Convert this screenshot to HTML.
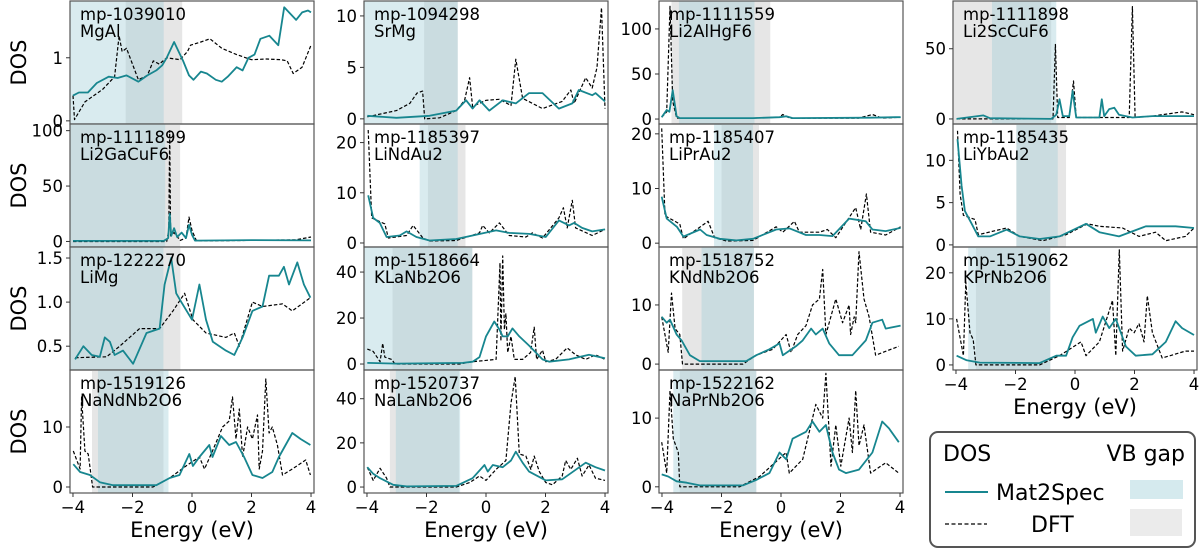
<!DOCTYPE html>
<html><head><meta charset="utf-8"><style>
html,body{margin:0;padding:0;background:#fff;}
svg{display:block;font-family:"DejaVu Sans","Liberation Sans",sans-serif;}
</style></head><body>
<svg id="chart" width="1200" height="550" viewBox="0 0 1200 550" xmlns="http://www.w3.org/2000/svg">
<defs id="defs"></defs>
<g id="panels"></g>
<g id="legend">
  <rect x="930" y="432" width="265" height="115" rx="8" fill="#fff" stroke="#555" stroke-width="2"/>
  <text x="943" y="461" font-size="22">DOS</text>
  <text x="1185" y="461" font-size="22" text-anchor="end">VB gap</text>
  <line x1="945" y1="492" x2="988" y2="492" stroke="#17868f" stroke-width="2"/>
  <text x="996" y="500" font-size="22">Mat2Spec</text>
  <rect x="1130" y="480" width="53" height="19" fill="#d5eaee"/>
  <line x1="945" y1="524" x2="987" y2="524" stroke="#000" stroke-width="1.3" stroke-dasharray="4,2.5"/>
  <text x="1031" y="532" font-size="22">DFT</text>
  <rect x="1130" y="509" width="52" height="27" fill="#ebebeb"/>
</g>
</svg>
<script>
// ---- data ----
const ids = ["mp-1039010","mp-1111899","mp-1222270","mp-1519126","mp-1094298","mp-1185397","mp-1518664","mp-1520737","mp-1111559","mp-1185407","mp-1518752","mp-1522162","mp-1111898","mp-1185435","mp-1519062"];
const formulas = ["MgAl","Li2GaCuF6","LiMg","NaNdNb2O6","SrMg","LiNdAu2","KLaNb2O6","NaLaNb2O6","Li2AlHgF6","LiPrAu2","KNdNb2O6","NaPrNb2O6","Li2ScCuF6","LiYbAu2","KPrNb2O6"];
const yDomains = [[-0.05,1.9],[-5,106],[0.23,1.625],[-1,19.5],[-0.5,11.45],[-0.8,23.7],[-2.6,50.9],[-2.7,53],[-5.5,131],[-0.7,21.8],[-1,19.8],[-0.9,17],[-3.6,84],[-0.25,14.3],[-1.1,25.6]];
const yTicks = [[0,1],[0,50,100],[0.5,1.0,1.5],[0,10],[0,5,10],[0,10,20],[0,20,40],[0,20,40],[0,50,100],[0,10,20],[0,10],[0,10],[0,50],[0,5,10],[0,10,20]];
const yTickLabels = [["0","1"],["0","50","100"],["0.5","1.0","1.5"],["0","10"],["0","5","10"],["0","10","20"],["0","20","40"],["0","20","40"],["0","50","100"],["0","10","20"],["0","10"],["0","10"],["0","50"],["0","5","10"],["0","10","20"]];
const xTicks = [-4,-2,0,2,4];
const xTickLabels = ["\u22124","\u22122","0","2","4"];
const gapMat2Spec = [[-4.2,-0.95],[-4.2,-0.9],[-4.2,-0.96],[-3.16,-0.79],[-4.2,-0.95],[-2.23,-0.95],[-4.2,-0.46],[-3.03,-0.87],[-3.43,-0.89],[-2.25,-0.94],[-2.67,-0.91],[-3.62,-0.83],[-2.79,-0.63],[-1.97,-0.58],[-3.59,-0.83]];
const gapDFT = [[-2.23,-0.33],[-4.2,-0.4],[-4.2,-0.39],[-3.36,-0.96],[-2.08,-0.95],[-1.95,-0.69],[-3.14,-0.46],[-3.23,-0.91],[-3.68,-0.36],[-2.0,-0.74],[-3.32,-0.91],[-3.4,-0.83],[-4.2,-0.8],[-1.97,-0.3],[-3.33,-0.83]];

const mlE = [
[-4,-3.8,-3.5,-3.2,-2.8,-2.5,-2.2,-1.8,-1.5,-1.2,-1.0,-0.85,-0.6,-0.45,-0.3,-0.1,0.05,0.3,0.5,0.8,1.0,1.2,1.5,1.7,1.9,2.1,2.3,2.6,2.9,3.1,3.3,3.5,3.7,3.9,4.0],
[-4,-0.95,-0.8,-0.75,-0.7,-0.6,-0.5,-0.35,-0.2,-0.1,0.0,0.1,2,4],
[-3.93,-3.65,-3.37,-3.1,-2.93,-2.76,-2.6,-2.32,-1.98,-1.53,-1.09,-0.92,-0.7,-0.53,-0.36,0.0,0.25,0.47,0.7,1.14,1.42,1.7,2.03,2.37,2.59,2.92,3.09,3.26,3.54,3.76,3.98],
[-3.99,-3.76,-3.43,-3.1,-2.65,-1.2,-0.75,-0.42,-0.09,0.03,0.25,0.58,0.69,0.97,1.25,1.48,1.75,2.03,2.37,2.7,2.92,3.37,3.65,3.98],
[-3.99,-3.01,-1.9,-1.0,-0.67,-0.45,-0.22,0.11,0.56,1.0,1.45,1.9,2.45,2.9,3.12,3.57,3.68,4.0],
[-3.96,-3.79,-3.57,-3.34,-2.9,-2.67,-2.34,-1.9,-1.0,-0.45,0.34,0.78,1.45,2.01,2.45,2.79,2.96,3.23,3.57,4.0],
[-3.99,-3.01,-0.78,-0.45,-0.22,0.0,0.28,0.45,0.56,0.73,0.89,1.12,1.45,1.9,2.12,2.79,3.46,4.0],
[-3.99,-3.79,-3.56,-3.12,-2.67,-1.0,-0.45,-0.05,0.06,0.23,0.56,0.84,1.0,1.23,1.45,2.01,2.56,3.35,3.68,4.0],
[-4.01,-3.84,-3.75,-3.64,-3.51,-3.4,-0.94,-0.05,0.17,0.39,2.96,3.85,4.02],
[-4.01,-3.84,-3.5,-3.28,-2.72,-2.5,-2.06,-1.5,-0.94,-0.16,0.29,0.84,1.29,1.73,2.29,2.63,2.85,3.07,3.52,4.02],
[-4.01,-3.84,-3.73,-3.51,-3.34,-3.06,-2.73,-1.17,-0.83,-0.39,-0.05,0.06,0.5,0.73,1.01,1.17,1.4,1.62,1.95,2.4,2.85,3.07,3.4,3.52,4.02],
[-4.01,-3.79,-3.51,-3.17,-2.73,-1.28,-0.83,-0.39,-0.05,0.17,0.39,0.84,1.06,1.29,1.51,1.73,1.95,2.18,2.62,3.07,3.4,3.63,3.96],
[-3.98,-3.08,-2.86,-0.8,-0.63,-0.52,-0.41,-0.19,-0.08,0.04,0.82,0.9,0.98,1.15,1.32,1.48,1.93,2.6,4.0],
[-3.95,-3.81,-3.7,-3.47,-3.25,-2.86,-2.3,-1.86,-1.19,-0.52,0.37,0.82,1.48,2.38,3.38,4.0],
[-3.98,-3.64,-3.2,-1.19,-0.63,-0.3,-0.08,0.15,0.6,0.7,0.93,1.15,1.37,1.71,2.04,2.6,3.05,3.38,3.6,4.0]
];
const mlD = [
[0.4,0.45,0.45,0.6,0.7,0.68,0.72,0.62,0.72,0.8,0.88,1.0,1.25,1.1,0.95,0.72,0.65,0.78,0.75,0.65,0.62,0.7,0.85,0.8,1.0,1.05,1.3,1.35,1.2,1.8,1.7,1.6,1.72,1.75,1.72],
[0.5,0.5,3,25,5,12,4,8,3,15,6,0.8,1.2,1],
[0.35,0.5,0.4,0.38,0.6,0.55,0.4,0.45,0.3,0.65,0.7,1.2,1.5,1.1,1.0,0.8,1.2,0.8,0.55,0.45,0.4,0.6,0.9,0.95,1.3,1.3,1.4,1.2,1.45,1.2,1.05],
[3.8,2.5,2,0.8,0.3,0.3,1.5,2,5.5,3.5,5,7,5,8.5,7,7.5,5,2,1.5,2.5,5,9,8,7],
[0.3,0.1,0.3,0.8,1.8,1.0,1.8,0.8,1.8,1.5,2.5,2.5,1,1.5,2.8,2.3,2.5,1.7],
[9.5,5,4,1.2,1.5,2.3,1.2,0.5,0.8,1.5,2.5,2,1.8,1.2,4.5,3.5,4,3,2.3,2.7],
[0.5,0.2,0.5,1,3,12,18.5,15,12,12,15.5,12,8,2,1,2,4,2.5],
[9,6,4,1,0.3,0.5,4,10,7,10,9,12,16,11,7,3,3.5,11,9,7.5],
[2,10,8,32,3,1,1,2,3,1,1.5,2,2],
[8.5,4.5,3,1.2,2.5,1.5,0.8,0.5,0.8,2.5,2.7,1.5,1.5,1.3,4.5,4.2,4,2.5,2.2,2.8],
[8,7,7.5,5,4,1.5,0.5,0.5,1.5,2.5,3.5,1.5,3,4,6,5,6,3.5,1.5,1.5,4,7,7.5,6,6.5],
[1.8,1.5,0.8,0.6,0.2,0.2,1,2,5,4,7,8,9.5,8,9,5,2.5,2,2.5,5,9.5,8.5,6.5],
[0,2.5,0.5,0,3,14,2,2,20,1,1,14,2,7,8,3,1,2,2],
[12.5,7,4,2.5,1,1,1.8,1,0.7,1,2.5,1.5,1,2.2,2.2,2],
[2,1,0.5,0.4,2,2,6,8.5,10,7,10.5,8,10,4,2,2.3,5,9.5,8,6.5]
];
const dftE = [
[-4,-3.95,-3.6,-3.0,-2.6,-2.45,-2.35,-2.2,-1.8,-1.5,-1.3,-1.1,-0.85,-0.4,-0.15,-0.05,0.3,0.6,1.0,1.5,2.0,2.5,3.0,3.2,3.4,3.7,4.0],
[-4,-0.85,-0.78,-0.75,-0.72,-0.6,-0.4,-0.2,-0.1,0,0.15,2,3.5,4],
[-3.93,-2.87,-2.43,-1.76,-1.09,-0.64,-0.25,0.03,0.47,1.14,1.42,1.59,2.03,2.37,3.04,3.37,3.98],
[-3.99,-3.76,-3.71,-3.6,-3.49,-3.34,-1.31,-0.75,-0.2,0.25,0.42,0.69,1.03,1.25,1.36,1.48,1.59,1.7,1.87,2.03,2.2,2.26,2.37,2.48,2.59,2.7,2.87,3.04,3.37,3.82,3.98],
[-3.99,-3.01,-2.56,-2.32,-2.13,-2.06,-1.56,-1.0,-0.72,-0.55,-0.45,0.0,0.45,0.84,1.0,1.23,1.9,2.56,2.85,2.96,3.35,3.57,3.73,3.88,4.0],
[-3.96,-3.84,-3.4,-3.28,-2.67,-2.45,-2.12,-1.9,-1.0,-0.22,-0.11,0.11,0.45,0.78,1.34,1.56,1.9,2.45,2.6,2.73,2.9,3.01,3.57,4.0],
[-3.99,-3.79,-3.56,-3.47,-3.4,-3.17,-3.06,-0.89,-0.45,0.34,0.47,0.5,0.56,0.62,0.67,0.73,0.84,0.95,1.23,1.5,1.62,1.7,1.9,2.01,2.34,2.73,3.01,3.35,3.68,4.0],
[-3.99,-3.79,-3.56,-3.34,-3.23,-1.0,-0.55,-0.22,0.0,0.34,0.67,0.84,0.98,1.12,1.34,1.51,1.62,1.79,2.01,2.23,2.56,2.68,2.85,3.07,3.23,3.46,3.68,4.0],
[-4.01,-3.84,-3.73,-3.64,-3.51,-0.94,-0.05,0.06,0.29,2.62,3.07,3.4,4.02],
[-4.01,-3.9,-3.4,-3.28,-2.45,-2.23,-1.83,-0.94,-0.16,0.06,0.45,0.62,1.29,1.56,1.84,2.51,2.68,2.87,3.01,3.52,4.02],
[-4.01,-3.79,-3.68,-3.56,-3.4,-3.31,-1.28,-0.83,-0.28,0.17,0.34,0.56,0.84,1.06,1.29,1.4,1.51,1.84,2.07,2.29,2.34,2.46,2.51,2.62,2.79,2.96,3.18,3.96],
[-4.01,-3.84,-3.73,-3.62,-3.45,-3.4,-1.39,-0.72,0.17,0.28,0.73,0.95,1.17,1.4,1.51,1.68,1.84,2.01,2.29,2.4,2.51,2.62,2.79,3.01,3.52,3.96],
[-3.98,-0.74,-0.66,-0.58,-0.19,-0.05,0.04,1.82,1.93,2.02,2.6,3.6,4.0],
[-3.95,-3.86,-3.75,-3.36,-3.25,-2.3,-1.86,-1.08,-0.3,0.42,0.82,1.6,2.15,2.71,3.05,3.71,4.0],
[-3.98,-3.75,-3.67,-3.53,-3.42,-3.33,-1.19,-0.52,0.2,0.37,0.82,1.26,1.37,1.49,1.6,1.82,1.99,2.15,2.32,2.43,2.6,2.93,3.71,4.0]
];
const dftD = [
[0.4,0.02,0.3,0.5,0.7,1.35,1.1,1.15,0.65,0.72,0.95,0.9,1.0,0.97,1.1,1.2,1.25,1.3,1.15,1.05,0.97,0.98,0.97,0.95,0.75,0.85,1.2],
[0,0,10,100,5,8,1,3,22,10,0.5,1,1.5,4],
[0.37,0.38,0.5,0.7,0.7,0.9,1.1,0.8,0.65,0.6,0.65,0.5,1.0,0.95,0.98,0.9,1.05],
[6,3,15,6,5.5,0,0,1.5,3.5,5,3,6,10,11,15,8,13,5,10,8,12,3,6,18,9,10,7,2,3,4.5,2],
[0.2,0.8,1.5,2.5,2.7,0,0.1,0.8,1.8,4,1.2,1.8,1.9,1.3,5.8,2,1,1.7,2.8,1.5,4,3,5,10.8,1],
[22.5,5,3.8,1,1.5,3.5,1,0.4,0.5,2,3.5,2,4,1.5,1.2,2,1,5,7,3,8.5,3,1.5,2.7],
[6.5,5.5,1,9,3,2,0,0,1,2,44,10,47,15,22,5,12,2,2,5,16,2,6,1,2,7,4,2,4,2],
[9,3,8.5,4,0,0,2,5,3,8,12,38,50,15,14,8,14,7,2,1,5,12,8,13,5,10,4,3],
[2,8,125,20,1,1,2,5,1,1,5,1,2],
[21,5,3.5,0.8,4,1,0.4,0.5,3,2,4,2,2,2.5,1,6.5,2.5,9,2,1.5,3],
[8,2,12,6,5,0,0,1.5,2.5,5,2,5,6.5,10,11,16,5,11,7,10,5,8,7,19,11,8,1.5,3],
[6.5,2,14,7,5,0,0,1.5,5,2,4,8,12,10,16.5,3,9,3,10,5,14,6,9,2,3.5,2],
[0,0,53,1,1,27,1,1,80,1,2,5,3],
[13.5,6,3.5,3,1.2,2,1,0.5,1.2,2.5,2.2,2,1,1.5,0.5,1,2],
[10,2,18,7,5.5,0,0,2,5,2,5,14,2,25,3,8,7,9,5,15,7,1.5,3,3]
];

// ---- layout ----
const NS = "http://www.w3.org/2000/svg";
const colLeft = [70, 364, 659, 953];
const PW = 244, PH = 123, TOP = 1;
const xDom = [-4.1, 4.1];
const panelsG = document.getElementById('panels');
const defs = document.getElementById('defs');
function mk(tag, attrs, parent) {
  const e = document.createElementNS(NS, tag);
  for (const k in attrs) e.setAttribute(k, attrs[k]);
  parent.appendChild(e);
  return e;
}
function xScale(left, v) { return left + (v - xDom[0]) / (xDom[1] - xDom[0]) * PW; }
function yScale(top, dom, v) { return top + PH - (v - dom[0]) / (dom[1] - dom[0]) * PH; }

for (let i = 0; i < ids.length; i++) {
  const col = Math.floor(i / 4), row = i % 4;
  const left = colLeft[col], top = TOP + row * PH;
  const dom = yDomains[i];
  const isBottom = (col < 3 && row === 3) || (col === 3 && row === 2);
  const g = mk('g', {}, panelsG);
  
  
  const cp = mk('clipPath', { id: 'clip' + i }, defs);
  mk('rect', { x: left, y: top, width: PW, height: PH }, cp);
  const inner = mk('g', { 'clip-path': 'url(#clip' + i + ')' }, g);

  const gx0 = xScale(left, gapDFT[i][0]), gx1 = xScale(left, gapDFT[i][1]);
  const gr = mk('rect', { x: gx0, y: top, width: gx1 - gx0, height: PH, fill: '#e6e6e6' }, inner);
  
  
  const cx0 = xScale(left, gapMat2Spec[i][0]), cx1 = xScale(left, gapMat2Spec[i][1]);
  const cr = mk('rect', { x: cx0, y: top, width: cx1 - cx0, height: PH, fill: 'rgb(160,205,215)', 'fill-opacity': 0.4 }, inner);
  
  

  let d = '';
  for (let k = 0; k < dftE[i].length; k++) d += (k ? 'L' : 'M') + xScale(left, dftE[i][k]).toFixed(1) + ',' + yScale(top, dom, dftD[i][k]).toFixed(1);
  const dl = mk('path', { d: d, fill: 'none', stroke: '#000', 'stroke-width': 1.2, 'stroke-dasharray': '3.5,2', 'stroke-linejoin': 'round' }, inner);
  
  
  d = '';
  for (let k = 0; k < mlE[i].length; k++) d += (k ? 'L' : 'M') + xScale(left, mlE[i][k]).toFixed(1) + ',' + yScale(top, dom, mlD[i][k]).toFixed(1);
  const ml = mk('path', { d: d, fill: 'none', stroke: '#17868f', 'stroke-width': 1.8, 'stroke-linejoin': 'round' }, inner);
  
  

  const t1 = mk('text', { x: left + 10, y: top + 19, 'font-size': 16.5 }, g);
  t1.textContent = ids[i];
  
  
  const t2 = mk('text', { x: left + 10, y: top + 36, 'font-size': 16.5 }, g);
  t2.textContent = formulas[i];
  
  

  const fr = mk('rect', { x: left, y: top, width: PW, height: PH, fill: 'none', stroke: '#555', 'stroke-width': 1.2 }, g);
  
  

  for (let k = 0; k < yTicks[i].length; k++) {
    const yy = yScale(top, dom, yTicks[i][k]);
    mk('line', { x1: left - 4, x2: left, y1: yy, y2: yy, stroke: '#333', 'stroke-width': 1 }, g);
    const tl = mk('text', { x: left - 7, y: yy + 6, 'font-size': 16.5, 'text-anchor': 'end' }, g);
    tl.textContent = yTickLabels[i][k];
    
    
  }
  if (isBottom) {
    const bot = top + PH;
    for (let k = 0; k < xTicks.length; k++) {
      const xx = xScale(left, xTicks[k]);
      mk('line', { x1: xx, x2: xx, y1: bot, y2: bot + 4, stroke: '#333', 'stroke-width': 1 }, g);
      const xl = mk('text', { x: xx, y: bot + 20, 'font-size': 16.5, 'text-anchor': 'middle' }, g);
      xl.textContent = xTickLabels[k];
      
      
    }
    const xt = mk('text', { x: left + PW / 2, y: bot + 44, 'font-size': 21, 'text-anchor': 'middle' }, g);
    xt.textContent = 'Energy (eV)';
    
    
  }
  if (col === 0) {
    const cy = top + PH / 2;
    const yt = mk('text', { x: 0, y: 0, 'font-size': 21, 'text-anchor': 'middle', transform: 'translate(26,' + cy + ') rotate(-90)' }, g);
    yt.textContent = 'DOS';
    
    
  }
}
</script>
</body></html>
